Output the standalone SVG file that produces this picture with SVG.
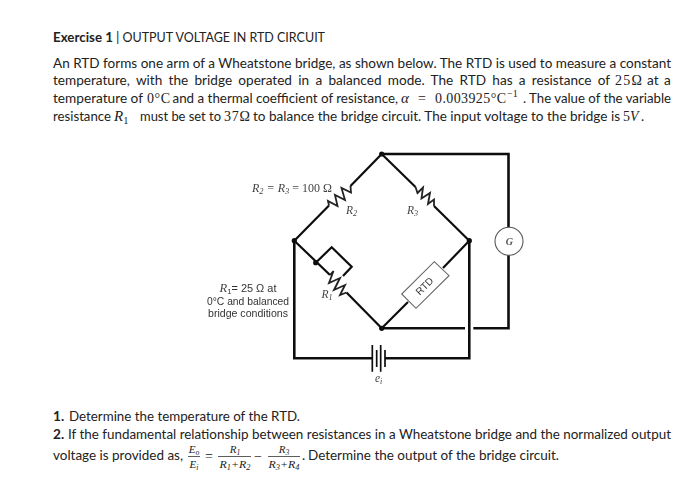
<svg xmlns="http://www.w3.org/2000/svg" width="700" height="484" viewBox="0 0 700 484">
<defs><filter id="soft" x="-5%" y="-5%" width="110%" height="110%"><feGaussianBlur stdDeviation="0.4"/></filter></defs>
<style>
.b{font-family:"Lato","Carlito","Open Sans",sans-serif;font-size:13.6px;fill:#222}
.bd{font-weight:700}
.m{font-family:"Liberation Serif",serif;font-size:14px;fill:#222}
.mi{font-family:"Liberation Serif",serif;font-style:italic;font-size:15px;fill:#222}
.sup{font-family:"Liberation Serif",serif;font-size:10px;fill:#222}
.f{font-family:"Liberation Serif",serif;font-style:italic;font-size:11px;fill:#222}
.s{font-size:70%}
.w{fill:none;stroke:#111;stroke-width:2.6;stroke-linejoin:miter}
.a{fill:none;stroke:#111;stroke-width:2.2;stroke-linejoin:miter}
.t{fill:none;stroke:#222;stroke-width:1.8;stroke-linejoin:miter}
.p{fill:none;stroke:#111;stroke-width:1.7}
.c{font-family:"Liberation Serif",serif;font-style:italic;font-size:11.5px;fill:#444}
.h{font-family:"Liberation Sans",sans-serif;font-size:10px;fill:#333}
.g{font-family:"Liberation Serif",serif;font-style:italic;font-weight:700;font-size:10px;fill:#555}
.d{fill:#111}
</style>
<rect width="700" height="484" fill="#fff"/>
<g id="heading">
<text class="b bd" x="53" y="41.5" textLength="60" lengthAdjust="spacingAndGlyphs">Exercise 1</text>
<text class="b" x="116" y="41.5">|</text>
<text class="b" x="122.5" y="41.5" textLength="202.5" lengthAdjust="spacingAndGlyphs">OUTPUT VOLTAGE IN RTD CIRCUIT</text>
</g>
<g id="paragraph">
<text class="b" x="53" y="67.5" textLength="618" lengthAdjust="spacingAndGlyphs">An RTD forms one arm of a Wheatstone bridge, as shown below. The RTD is used to measure a constant</text>
<text class="b" x="53" y="85" word-spacing="2.8">temperature, with the bridge operated in a balanced mode. The RTD has a resistance of</text>
<text class="m" x="615" y="85" textLength="27">25Ω</text>
<text class="b" x="647" y="85">at</text>
<text class="b" x="664" y="85">a</text>
<text class="b" x="53" y="103" textLength="90" lengthAdjust="spacingAndGlyphs">temperature of</text>
<text class="m" x="147" y="103" textLength="23">0°C</text>
<text class="b" x="172.5" y="103" textLength="225.5" lengthAdjust="spacingAndGlyphs">and a thermal coefficient of resistance,</text>
<text class="mi" x="401" y="103">α</text>
<text class="m" x="418" y="103">=</text>
<text class="m" x="435" y="103" textLength="71">0.003925°C</text>
<text class="sup" x="507" y="97">−1</text>
<text class="b" x="523" y="103" textLength="148" lengthAdjust="spacingAndGlyphs">. The value of the variable</text>
<text class="b" x="53" y="120.5" textLength="58" lengthAdjust="spacingAndGlyphs">resistance</text>
<text class="mi" x="114" y="120.5">R<tspan class="s" font-style="normal" dy="3">1</tspan></text>
<text class="b" x="140" y="120.5" textLength="81" lengthAdjust="spacingAndGlyphs">must be set to</text>
<text class="m" x="224" y="120.5" textLength="26">37Ω</text>
<text class="b" x="253" y="120.5" textLength="367" lengthAdjust="spacingAndGlyphs">to balance the bridge circuit. The input voltage to the bridge is</text>
<text class="m" x="623" y="120.5">5<tspan font-style="italic">V</tspan></text>
<text class="b" x="641" y="120.5">.</text>
</g>
<g id="circuit" filter="url(#soft)">
<g id="connectors">
<path class="a" d="M381.7 154L350.5 186M329 205.5L294.3 240.7M381.7 154L415.5 187M434 206L469.3 240.7M294.3 240.7L330 275M346.5 292.5L381.7 328.3M381.7 328.3L408 302M443 268L469.3 240.7"/>
<path class="w" d="M381.7 154H508.5V227.5M508.5 255V328.3H473.3M465 328.3H381.7M294.3 240.7V358.3H372.3M385 358.3H469.3V240.7"/>
<path class="a" d="M315.7 262.7L331.7 247.3L351.7 266.7L343 276"/>
<circle class="d" cx="381.7" cy="154" r="2.6"/><circle class="d" cx="294.3" cy="240.7" r="2.6"/><circle class="d" cx="469.3" cy="240.7" r="2.6"/><circle class="d" cx="381.7" cy="328.3" r="2.6"/><circle class="d" cx="315.7" cy="262.7" r="2.6"/>
</g>
<g id="R2"><polyline class="t" points="350.5,186 351,192.5 341.5,188 345,200 335,195 337.5,206 328,201 329,205.5"/>
<text class="c" x="346" y="214">R<tspan class="s" dy="2">2</tspan></text></g>
<g id="R3"><polyline class="t" points="415.5,187 417.5,193 423,187.5 421.5,198.5 430,193 428,204 434,199.5 434,206"/>
<text class="c" x="407" y="214">R<tspan class="s" dy="2">3</tspan></text></g>
<g id="R1"><polyline class="t" points="330,275 333.5,271 329,283 340,278 334,290 345,285 340,295 346.5,292.5"/>
<text class="c" x="321.5" y="298">R<tspan class="s" dy="2">1</tspan></text></g>
<g id="RTD"><polygon points="434.3,261.7 449,275.7 416,308.3 401.7,294" fill="#fff" stroke="#666" stroke-width="1.1"/>
<text class="h" transform="translate(427 288.5) rotate(-45)" text-anchor="middle">RTD</text></g>
<g id="G"><circle cx="509" cy="241.3" r="14" fill="#fff" stroke="#555" stroke-width="1.1"/>
<text class="g" x="509.3" y="245" text-anchor="middle">G</text></g>
<g id="battery"><path class="p" d="M372.3 345V371.7M376.7 350V367M380.7 345V371.7M385 350V367"/>
<text class="c" x="375" y="381.5">e<tspan class="s" dy="2">i</tspan></text></g>
<g id="labels">
<text class="c" x="252" y="191.7" textLength="80" lengthAdjust="spacingAndGlyphs">R<tspan class="s" dy="2">2</tspan><tspan dy="-2"> = R</tspan><tspan class="s" dy="2">3</tspan><tspan dy="-2" font-style="normal"> = 100 Ω</tspan></text>
<text class="h" x="219.5" y="291.7" textLength="57" lengthAdjust="spacingAndGlyphs"><tspan class="c">R</tspan><tspan class="s" dy="2">1</tspan><tspan dy="-2">= 25 Ω at</tspan></text>
<text class="h" x="207" y="305" textLength="82" lengthAdjust="spacingAndGlyphs">0°C and balanced</text>
<text class="h" x="208" y="316.7" textLength="80" lengthAdjust="spacingAndGlyphs">bridge conditions</text>
</g>
</g>
<g id="questions">
<text class="b bd" x="53" y="420.7">1.</text>
<text class="b" x="69" y="420.7" textLength="231" lengthAdjust="spacingAndGlyphs">Determine the temperature of the RTD.</text>
<text class="b bd" x="53" y="439">2.</text>
<text class="b" x="68" y="439" textLength="603" lengthAdjust="spacingAndGlyphs">If the fundamental relationship between resistances in a Wheatstone bridge and the normalized output</text>
<text class="b" x="53" y="460" textLength="130" lengthAdjust="spacingAndGlyphs">voltage is provided as,</text>
<g id="formula">
<text class="f" x="194" y="453" text-anchor="middle">E<tspan class="s" dy="1.5">o</tspan></text>
<text class="f" x="194" y="468" text-anchor="middle">E<tspan class="s" dy="1.5">i</tspan></text>
<path d="M188 456.5H200M218 456.5H251M268 456.5H300" stroke="#333" stroke-width="0.8" fill="none"/>
<text class="m" x="205" y="460.5">=</text>
<text class="f" x="235" y="453" text-anchor="middle">R<tspan class="s" dy="1.5">1</tspan></text>
<text class="f" x="235" y="468" text-anchor="middle" textLength="31" lengthAdjust="spacingAndGlyphs">R<tspan class="s" dy="1.5">1</tspan><tspan dy="-1.5">+R</tspan><tspan class="s" dy="1.5">2</tspan></text>
<text class="m" x="254" y="460.5">−</text>
<text class="f" x="284" y="453" text-anchor="middle">R<tspan class="s" dy="1.5">3</tspan></text>
<text class="f" x="284" y="468" text-anchor="middle" textLength="31" lengthAdjust="spacingAndGlyphs">R<tspan class="s" dy="1.5">3</tspan><tspan dy="-1.5">+R</tspan><tspan class="s" dy="1.5">4</tspan></text>
</g>
<text class="b" x="302" y="460">.</text>
<text class="b" x="308" y="460" textLength="251" lengthAdjust="spacingAndGlyphs">Determine the output of the bridge circuit.</text>
</g>
</svg>
